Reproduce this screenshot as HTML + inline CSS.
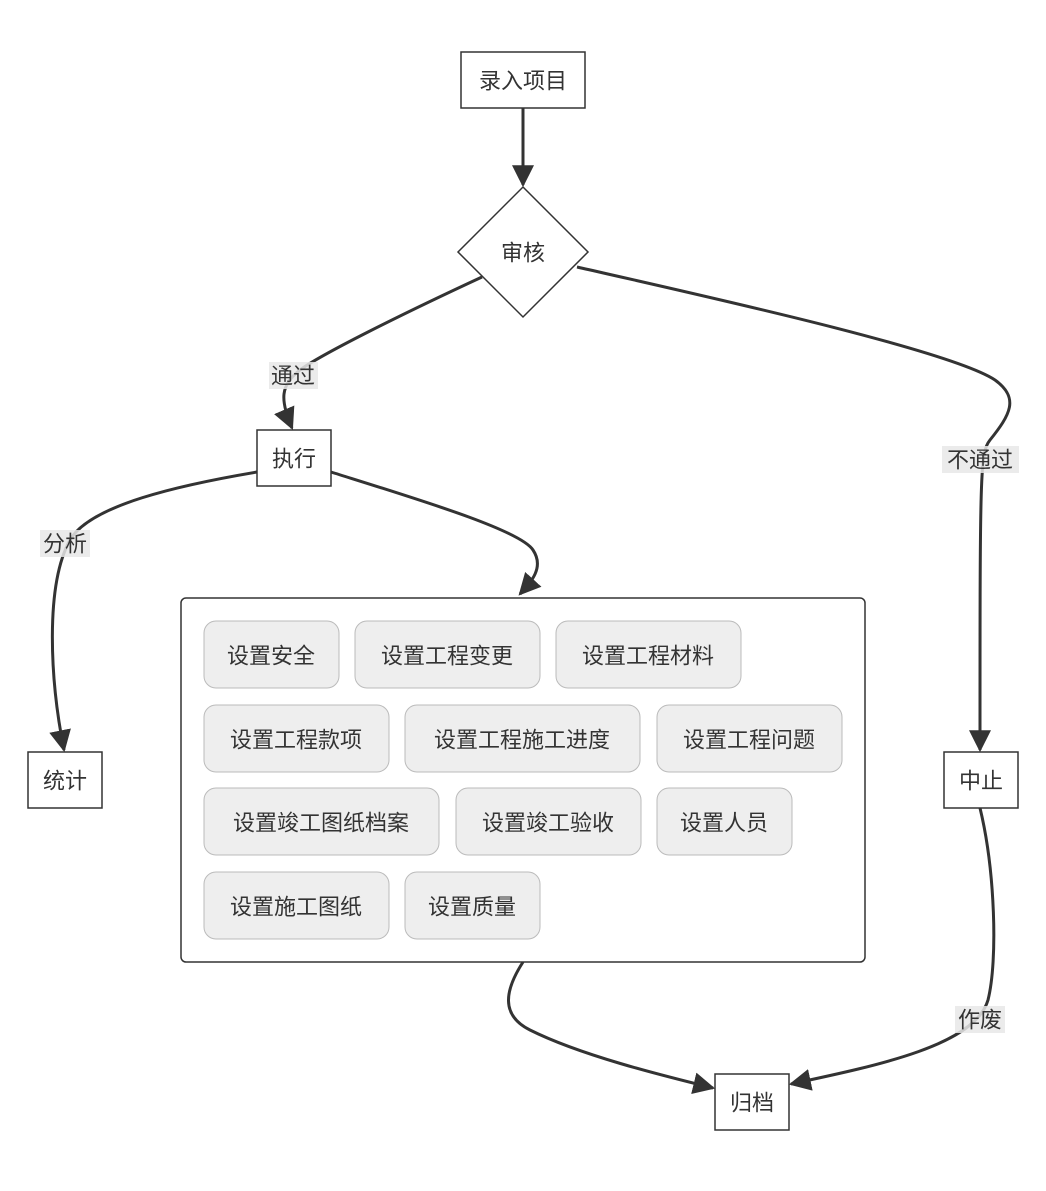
<!DOCTYPE html>
<html><head><meta charset="utf-8"><style>
html,body{margin:0;padding:0;background:#fff;}
svg text{font-family:"Liberation Sans","Noto Sans CJK SC",sans-serif;font-size:22px;fill:#333;}
</style></head><body>
<svg width="1046" height="1186" viewBox="0 0 1046 1186" xmlns="http://www.w3.org/2000/svg">
<defs><marker id="a" viewBox="0 0 10 10" refX="9" refY="5" markerWidth="7" markerHeight="7" orient="auto-start-reverse" markerUnits="userSpaceOnUse"><path d="M0,0 L10,5 L0,10 z" fill="#333"/></marker>
<marker id="b" viewBox="0 0 10 10" refX="9" refY="5" markerWidth="22" markerHeight="22" orient="auto" markerUnits="userSpaceOnUse"><path d="M0,0 L10,5 L0,10 z" fill="#333"/></marker></defs>
<g fill="none" stroke="#333" stroke-width="3">
<path d="M523,108 L523,185" marker-end="url(#b)"/>
<path d="M482,277 C400,315 320,355 300,370 C280,385 280,400 292,428" marker-end="url(#b)"/>
<path d="M577,267 C700,295 950,350 995,380 C1020,398 1010,415 990,440 C980,452 980,470 980,750" marker-end="url(#b)"/>
<path d="M257,472 C180,485 90,505 70,540 C45,585 50,680 64,750" marker-end="url(#b)"/>
<path d="M331,472 C420,500 520,530 533,550 C545,568 530,583 520,594" marker-end="url(#b)"/>
<path d="M523,962 C505,990 500,1015 530,1030 C580,1055 660,1075 713,1088" marker-end="url(#b)"/>
<path d="M980,808 C995,870 998,960 988,1000 C975,1045 880,1065 791,1084" marker-end="url(#b)"/>
</g>
<g fill="#fff" stroke="#333" stroke-width="1.5">
<rect x="461" y="52" width="124" height="56"/>
<polygon points="523,187 588,252 523,317 458,252"/>
<rect x="257" y="430" width="74" height="56"/>
<rect x="28" y="752" width="74" height="56"/>
<rect x="944" y="752" width="74" height="56"/>
<rect x="715" y="1074" width="74" height="56"/>
<rect x="181" y="598" width="684" height="364" rx="5"/>
</g>
<g fill="#eee" stroke="#bbb" stroke-width="1">
<rect x="204" y="621" width="135" height="67" rx="12"/>
<rect x="355" y="621" width="185" height="67" rx="12"/>
<rect x="556" y="621" width="185" height="67" rx="12"/>
<rect x="204" y="705" width="185" height="67" rx="12"/>
<rect x="405" y="705" width="235" height="67" rx="12"/>
<rect x="657" y="705" width="185" height="67" rx="12"/>
<rect x="204" y="788" width="235" height="67" rx="12"/>
<rect x="456" y="788" width="185" height="67" rx="12"/>
<rect x="657" y="788" width="135" height="67" rx="12"/>
<rect x="204" y="872" width="185" height="67" rx="12"/>
<rect x="405" y="872" width="135" height="67" rx="12"/>
</g>
<g fill="rgba(232,232,232,0.85)">
<rect x="269" y="362" width="49" height="27"/>
<rect x="942" y="446" width="77" height="27"/>
<rect x="40" y="530" width="50" height="27"/>
<rect x="955" y="1006" width="50" height="27"/>
</g>
<g text-anchor="middle" dominant-baseline="central">
<text x="523" y="81">录入项目</text>
<text x="523" y="253">审核</text>
<text x="294" y="459">执行</text>
<text x="65" y="781">统计</text>
<text x="981" y="781">中止</text>
<text x="752" y="1103">归档</text>
<text x="293" y="376">通过</text>
<text x="980" y="460">不通过</text>
<text x="65" y="544">分析</text>
<text x="980" y="1020">作废</text>
<text x="271" y="656">设置安全</text>
<text x="447" y="656">设置工程变更</text>
<text x="648" y="656">设置工程材料</text>
<text x="296" y="740">设置工程款项</text>
<text x="522" y="740">设置工程施工进度</text>
<text x="749" y="740">设置工程问题</text>
<text x="321" y="823">设置竣工图纸档案</text>
<text x="548" y="823">设置竣工验收</text>
<text x="724" y="823">设置人员</text>
<text x="296" y="907">设置施工图纸</text>
<text x="472" y="907">设置质量</text>
</g>
</svg>
</body></html>
